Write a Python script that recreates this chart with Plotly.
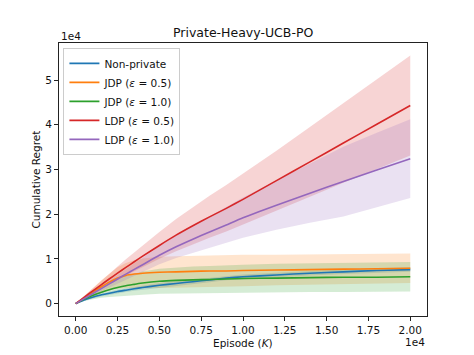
import plotly.graph_objects as go

# ---- data ----
episodes = [0, 500, 1000, 1500, 2000, 2500, 3000, 3500, 4000, 5000, 6000, 7000,
            8000, 9000, 10000, 12000, 14000, 16000, 18000, 20000]

series_names = ["Non-private", "JDP (<i>ε</i> = 0.5)", "JDP (<i>ε</i> = 1.0)",
                "LDP (<i>ε</i> = 0.5)", "LDP (<i>ε</i> = 1.0)"]

nonprivate_mean = [0, 800, 1400, 1900, 2300, 2700, 3000, 3300, 3600, 4100, 4500, 4900,
                   5300, 5700, 6000, 6400, 6800, 7100, 7400, 7600]
nonprivate_std = [0, 150, 250, 300, 350, 400, 420, 440, 460, 480, 500, 500,
                  500, 500, 500, 500, 500, 500, 500, 500]

jdp05_mean = [0, 1200, 2500, 3700, 4800, 5700, 6300, 6600, 6800, 7000, 7100, 7200,
              7300, 7300, 7400, 7500, 7600, 7700, 7800, 7900]
jdp05_std = [0, 400, 900, 1400, 1900, 2400, 2800, 3100, 3300, 3500, 3500, 3500,
             3500, 3500, 3500, 3400, 3400, 3400, 3300, 3300]

jdp10_mean = [0, 1000, 1800, 2500, 3100, 3600, 4000, 4300, 4600, 5000, 5200, 5300,
              5400, 5500, 5600, 5700, 5800, 5900, 5900, 6000]
jdp10_std = [0, 400, 800, 1200, 1600, 1900, 2200, 2400, 2600, 2800, 2900, 3000,
             3000, 3100, 3100, 3200, 3200, 3300, 3300, 3300]

ldp05_mean = [0, 1400, 2800, 4150, 5500, 6800, 8100, 9350, 10600, 13000, 15300, 17400,
              19400, 21300, 23300, 27500, 31700, 35900, 40100, 44300]
ldp05_std = [0, 300, 600, 900, 1200, 1500, 1800, 2100, 2400, 3000, 3600, 4200,
             4700, 5200, 5700, 6700, 7800, 8900, 10000, 11200]

ldp10_mean = [0, 1100, 2200, 3300, 4400, 5500, 6600, 7650, 8700, 10800, 12700, 14400,
              16000, 17600, 19200, 22000, 24700, 27300, 29900, 32400]
ldp10_std = [0, 200, 400, 600, 800, 1000, 1200, 1400, 1600, 2000, 2500, 3000,
             3500, 4000, 4500, 5500, 6600, 7800, 8300, 8800]

x_tickvals = [0, 2500, 5000, 7500, 10000, 12500, 15000, 17500, 20000]
x_ticktext = ["0.00", "0.25", "0.50", "0.75", "1.00", "1.25", "1.50", "1.75", "2.00"]
y_tickvals = [0, 10000, 20000, 30000, 40000, 50000]
y_ticktext = ["0", "1", "2", "3", "4", "5"]

colors = ["31,119,180", "255,127,14", "44,160,44", "214,39,40", "148,103,189"]
means = [nonprivate_mean, jdp05_mean, jdp10_mean, ldp05_mean, ldp10_mean]
stds = [nonprivate_std, jdp05_std, jdp10_std, ldp05_std, ldp10_std]

fig = go.Figure()

# shaded bands first (under all lines)
for m, s, c in zip(means, stds, colors):
    upper = [a + b for a, b in zip(m, s)]
    lower = [a - b for a, b in zip(m, s)]
    fig.add_trace(go.Scatter(
        x=episodes + episodes[::-1],
        y=upper + lower[::-1],
        fill="toself", fillcolor=f"rgba({c},0.2)",
        line=dict(width=0), mode="lines",
        hoverinfo="skip", showlegend=False))

for name, m, c in zip(series_names, means, colors):
    fig.add_trace(go.Scatter(
        x=episodes, y=m, mode="lines", name=name,
        line=dict(color=f"rgb({c})", width=1.6, shape="spline", smoothing=0.5)))

font = "DejaVu Sans"
txt = "#111111"

axis_common = dict(showline=True, linecolor="#222222", linewidth=1, mirror=True,
                   ticks="outside", ticklen=4, tickwidth=1, tickcolor="#222222",
                   showgrid=False, zeroline=False,
                   tickfont=dict(family=font, size=10.5, color=txt))

# the page body has an 8px margin at top/left, so the figure is 8px smaller
fig.update_layout(
    width=466, height=347,
    margin=dict(l=51, r=47, t=35, b=39),
    paper_bgcolor="white", plot_bgcolor="white",
    xaxis=dict(range=[-1000, 21000], tickvals=x_tickvals, ticktext=x_ticktext, **axis_common),
    yaxis=dict(range=[-2775, 58275], tickvals=y_tickvals, ticktext=y_ticktext, **axis_common),
    legend=dict(x=0.012, y=0.982, xanchor="left", yanchor="top",
                bgcolor="rgba(255,255,255,0.8)", bordercolor="#cccccc", borderwidth=1,
                font=dict(family=font, size=10.5, color=txt),
                tracegroupgap=0, itemwidth=30),
    showlegend=True,
    annotations=[
        dict(text="Private-Heavy-UCB-PO", xref="paper", yref="paper", x=0.5, y=1,
             xanchor="center", yanchor="middle", yshift=11, showarrow=False,
             font=dict(family=font, size=12.5, color=txt)),
        dict(text="1e4", xref="paper", yref="paper", x=0, y=1,
             xanchor="left", yanchor="middle", yshift=7.5, xshift=0, showarrow=False,
             font=dict(family=font, size=10.5, color=txt)),
        dict(text="1e4", xref="paper", yref="paper", x=1, y=0,
             xanchor="right", yanchor="middle", yshift=-26, showarrow=False,
             font=dict(family=font, size=10.5, color=txt)),
        dict(text="Episode (<i>K</i>)", xref="paper", yref="paper", x=0.5, y=0,
             xanchor="center", yanchor="middle", yshift=-26.5, showarrow=False,
             font=dict(family=font, size=10.5, color=txt)),
        dict(text="Cumulative Regret", xref="paper", yref="paper", x=0, y=0.5,
             xanchor="center", yanchor="middle", xshift=-24, textangle=-90, showarrow=False,
             font=dict(family=font, size=10.5, color=txt)),
    ],
)

fig.write_html("out.html")
